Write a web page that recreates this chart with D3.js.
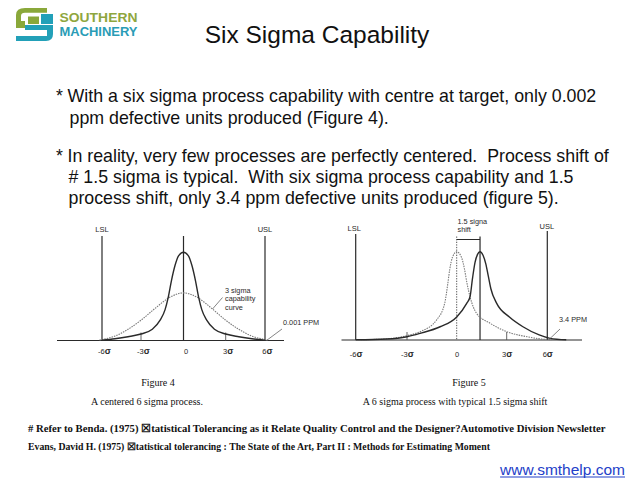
<!DOCTYPE html>
<html><head><meta charset="utf-8">
<script src="https://cdn.jsdelivr.net/npm/d3@7"></script>
<style>html,body{margin:0;padding:0;background:#fff;overflow:hidden}svg{display:block}text{white-space:pre}</style>
</head><body>
<svg id="c" width="638" height="479" xmlns="http://www.w3.org/2000/svg"></svg>
<script>
// ---------- data ----------
const sigmaTicks = [-6, -3, 0, 3, 6];
const tickLabels = ["-6", "-3", "0", "3", "6"];
const innerTicks = [-3, 3];
const specLimits = [-6, 6];
// Figure 4: centred six sigma process (x in sigma, y relative to peak)
const fig4SixSigma = [[-6,0.004],[-5,0.02],[-4,0.043],[-3,0.074],[-2.2,0.127],[-1.65,0.23],[-1.3,0.35],[-1.09,0.48],[-0.85,0.68],[-0.6,0.85],[-0.35,0.96],[0,1.0],[0.35,0.96],[0.6,0.85],[0.85,0.68],[1.09,0.48],[1.3,0.35],[1.65,0.23],[2.2,0.127],[3,0.074],[4,0.043],[5,0.02],[6,0.004]];
const fig4ThreeSigma = [[-6.2,0.005],[-5.9,0.014],[-5,0.05],[-4,0.127],[-3,0.23],[-2,0.365],[-1.07,0.48],[0,0.54],[1.07,0.48],[2,0.365],[3,0.23],[4,0.127],[5,0.05],[5.9,0.014],[6.2,0.005]];
// Figure 5: centred (dotted) and shifted (solid) processes
const fig5Centred = [[-6,0.002],[-5,0.006],[-4.2,0.012],[-3,0.05],[-2.2,0.095],[-1.2,0.23],[-0.72,0.42],[-0.55,0.62],[-0.42,0.8],[-0.25,0.94],[0,1],[0.28,0.94],[0.47,0.8],[0.62,0.64],[0.8,0.49],[1.2,0.30],[2,0.19],[3,0.094],[4.5,0.037],[5.5,0.012],[6.3,0.003]];
const fig5Shifted = [[-6,0.002],[-4.2,0.011],[-3,0.037],[-2.2,0.076],[-1,0.15],[0,0.26],[0.6,0.415],[0.8,0.49],[0.95,0.7],[1.1,0.88],[1.25,0.97],[1.4,1.0],[1.58,0.96],[1.75,0.86],[1.9,0.72],[2.05,0.58],[2.4,0.415],[3.2,0.26],[4.2,0.15],[5.4,0.057],[6.2,0.019],[7.4,0.002]];
const shiftCentre = 1.4;
const bullet1 = ["With a six sigma process capability with centre at target, only 0.002", "ppm defective units produced (Figure 4)."];
const bullet2 = ["In reality, very few processes are perfectly centered.  Process shift of", "# 1.5 sigma is typical.  With six sigma process capability and 1.5", "process shift, only 3.4 ppm defective units produced (figure 5)."];
const captions4 = ["Figure 4", "A centered 6 sigma process."];
const captions5 = ["Figure 5", "A 6 sigma process with typical 1.5 sigma shift"];
const references = ["# Refer to Benda. (1975) \u2612tatistical Tolerancing as it Relate Quality Control and the Designer?Automotive Division Newsletter",
  "Evans, David H. (1975) \u2612tatistical tolerancing : The State of the Art, Part II : Methods for Estimating Moment"];

// ---------- drawing ----------
const svg = d3.select("#c");
const SANS = "'Liberation Sans', Arial, sans-serif";
const SERIF = "'Liberation Serif', 'Times New Roman', serif";
const INK = "#2a2a2a";

// logo
const logo = svg.append("g");
const green = "#8aa83a", teal = "#22a0b8";
logo.append("path").attr("fill", green)
  .attr("d", "M25,8 H47 V12.8 H25 Q21,12.8 21,16 V22 H16 V15 Q16,8 25,8 Z");
logo.append("rect").attr("fill", green).attr("x", 16).attr("y", 21).attr("width", 9).attr("height", 7);
logo.append("rect").attr("fill", green).attr("x", 28).attr("y", 16.5).attr("width", 11).attr("height", 7.5);
logo.append("rect").attr("fill", teal).attr("x", 41).attr("y", 14).attr("width", 12).attr("height", 10);
logo.append("rect").attr("fill", teal).attr("x", 25).attr("y", 25).attr("width", 28).attr("height", 5);
logo.append("path").attr("fill", teal)
  .attr("d", "M47,30 H53 V34 Q53,41 46,41 H16 V36 H47 Z");
logo.append("text").attr("x", 59.5).attr("y", 22.3).attr("font-family", SANS).attr("font-weight", "bold")
  .attr("font-size", 12).attr("fill", "#8fa63e").attr("textLength", 78).attr("lengthAdjust", "spacingAndGlyphs").text("SOUTHERN");
logo.append("text").attr("x", 59.5).attr("y", 36).attr("font-family", SANS).attr("font-weight", "bold")
  .attr("font-size", 12).attr("fill", "#2a9cb6").attr("textLength", 78).attr("lengthAdjust", "spacingAndGlyphs").text("MACHINERY");

// title
svg.append("text").attr("x", 317).attr("y", 42.5).attr("text-anchor", "middle")
  .attr("font-family", SANS).attr("font-size", 24.5).attr("fill", "#111").text("Six Sigma Capability");

// bullets
const bt = svg.append("g").attr("font-family", SANS).attr("font-size", 17.8).attr("fill", "#111");
bt.append("text").attr("x", 56).attr("y", 102).text("*");
bt.append("text").attr("x", 67.5).attr("y", 102).text(bullet1[0]);
bt.append("text").attr("x", 69.5).attr("y", 123.5).text(bullet1[1]);
bt.append("text").attr("x", 56).attr("y", 161.5).text("*");
bullet2.forEach((s, i) => bt.append("text").attr("x", i === 0 ? 67.5 : 68.5).attr("y", 161.5 + i * 21).text(s));

// generic panel
function panel(cfg) {
  const g = svg.append("g");
  const x = d3.scaleLinear().domain(sigmaTicks).range(cfg.xr);
  const y = d3.scaleLinear().domain([0, 1]).range([cfg.base, cfg.top]);
  const line = d3.line().x(d => x(d[0])).y(d => y(d[1])).curve(d3.curveMonotoneX);
  g.append("line").attr("x1", cfg.axisX[0]).attr("x2", cfg.axisX[1]).attr("y1", cfg.base).attr("y2", cfg.base)
    .attr("stroke", INK).attr("stroke-width", 1.2);
  const axis = d3.axisBottom(x).tickValues(sigmaTicks).tickSize(0).tickPadding(cfg.pad)
    .tickFormat((d, i) => tickLabels[i]);
  const ax = g.append("g").attr("transform", `translate(${cfg.labelDx},${cfg.base})`).call(axis);
  ax.select(".domain").remove();
  ax.selectAll("text").attr("font-family", SANS).attr("font-size", 7.5).attr("fill", INK)
    .each(function (d) { if (d !== 0) d3.select(this).append("tspan").attr("font-weight", "bold").attr("font-size", 9).text("\u03c3"); });
  g.selectAll(".it").data(innerTicks).join("line")
    .attr("x1", d => x(d)).attr("x2", d => x(d)).attr("y1", cfg.base).attr("y2", cfg.base - 8)
    .attr("stroke", "#555").attr("stroke-width", 0.9);
  g.selectAll(".sl").data(specLimits).join("line")
    .attr("x1", d => x(d)).attr("x2", d => x(d)).attr("y1", (d, i) => cfg.slTop[i]).attr("y2", cfg.base)
    .attr("stroke", INK).attr("stroke-width", 1.2);
  g.selectAll(".slt").data(["LSL", "USL"]).join("text")
    .attr("x", (d, i) => x(specLimits[i]) + cfg.slDx[i]).attr("y", (d, i) => cfg.slLab[i]).attr("text-anchor", "middle")
    .attr("font-family", SANS).attr("font-size", 7.5).attr("fill", INK).text(d => d);
  return { g, x, y, line };
}

// Figure 4
const p4 = panel({ xr: [102, 141, 183.5, 225.7, 265], base: 340.5, top: 252.3, axisX: [57, 284], pad: 8, labelDx: 2,
  slTop: [236, 236], slLab: [231.5, 231.5], slDx: [0, 0] });
p4.g.append("line").attr("x1", p4.x(0)).attr("x2", p4.x(0)).attr("y1", 236).attr("y2", 340.5).attr("stroke", INK).attr("stroke-width", 1.2);
p4.g.append("path").datum(fig4ThreeSigma).attr("d", p4.line).attr("fill", "none")
  .attr("stroke", "#7a7a7a").attr("stroke-width", 1.1).attr("stroke-dasharray", "1.5,1");
p4.g.append("path").datum(fig4SixSigma).attr("d", p4.line).attr("fill", "none")
  .attr("stroke", INK).attr("stroke-width", 1.4);
const lab4 = p4.g.append("g").attr("font-family", SANS).attr("font-size", 7.3).attr("fill", INK);
["3 sigma", "capability", "curve"].forEach((s, i) => lab4.append("text").attr("x", 225).attr("y", 292.5 + i * 8.6).text(s));
p4.g.append("line").attr("x1", 222.5).attr("y1", 297.5).attr("x2", 212.5).attr("y2", 309).attr("stroke", "#666").attr("stroke-width", 0.8);
lab4.append("text").attr("x", 283).attr("y", 325).text("0.001 PPM");
p4.g.append("line").attr("x1", 266.5).attr("y1", 340.5).attr("x2", 282).attr("y2", 329).attr("stroke", "#666").attr("stroke-width", 0.8);

// Figure 5
const p5 = panel({ xr: [355.7, 407, 456.7, 506.7, 547.3], base: 340, top: 251.7, axisX: [341.5, 582], pad: 12, labelDx: 0,
  slTop: [234, 231], slLab: [231, 228.5], slDx: [-1.5, -0.5] });
p5.g.append("line").attr("x1", p5.x(0)).attr("x2", p5.x(0)).attr("y1", 236.5).attr("y2", 340)
  .attr("stroke", "#555").attr("stroke-width", 1).attr("stroke-dasharray", "1.3,1.3");
p5.g.append("line").attr("x1", p5.x(shiftCentre)).attr("x2", p5.x(shiftCentre)).attr("y1", 236.5).attr("y2", 340)
  .attr("stroke", INK).attr("stroke-width", 1.2);
p5.g.append("line").attr("x1", p5.x(0)).attr("x2", p5.x(shiftCentre)).attr("y1", 239.5).attr("y2", 239.5)
  .attr("stroke", INK).attr("stroke-width", 1);
p5.g.append("path").datum(fig5Centred).attr("d", p5.line).attr("fill", "none")
  .attr("stroke", "#7a7a7a").attr("stroke-width", 1.1).attr("stroke-dasharray", "1.5,1");
p5.g.append("path").datum(fig5Shifted).attr("d", p5.line).attr("fill", "none")
  .attr("stroke", INK).attr("stroke-width", 1.4);
const lab5 = p5.g.append("g").attr("font-family", SANS).attr("font-size", 7.3).attr("fill", INK);
lab5.append("text").attr("x", 457.5).attr("y", 224).text("1.5 signa");
lab5.append("text").attr("x", 457.5).attr("y", 232).text("shift");
lab5.append("text").attr("x", 559).attr("y", 321.5).text("3.4 PPM");
p5.g.append("line").attr("x1", 560).attr("y1", 329).attr("x2", 549).attr("y2", 339.5).attr("stroke", "#666").attr("stroke-width", 0.8);

// captions
const cap = svg.append("g").attr("font-family", SERIF).attr("font-size", 10).attr("fill", "#111").attr("text-anchor", "middle");
cap.append("text").attr("x", 158).attr("y", 385.5).text(captions4[0]);
cap.append("text").attr("x", 147).attr("y", 404.5).text(captions4[1]);
cap.append("text").attr("x", 469).attr("y", 385.5).text(captions5[0]);
cap.append("text").attr("x", 455).attr("y", 404.5).text(captions5[1]);

// references (font size fitted to the measured line width)
const refTargets = [578, 462];
references.forEach((s, i) => {
  const t = svg.append("text").attr("x", 28).attr("y", 431.5 + i * 18).attr("font-family", SERIF)
    .attr("font-weight", "bold").attr("font-size", 10).attr("fill", "#111").text(s);
  const w = t.node().getComputedTextLength();
  t.attr("font-size", 10 * refTargets[i] / w);
});

// url
const url = svg.append("text").attr("x", 625).attr("y", 475).attr("text-anchor", "end")
  .attr("font-family", SANS).attr("font-size", 15.5).attr("fill", "#2340c8").text("www.smthelp.com");
const uw = url.node().getComputedTextLength();
svg.append("line").attr("x1", 625 - uw).attr("x2", 625).attr("y1", 477).attr("y2", 477).attr("stroke", "#2340c8").attr("stroke-width", 1.1);
</script>
</body></html>
